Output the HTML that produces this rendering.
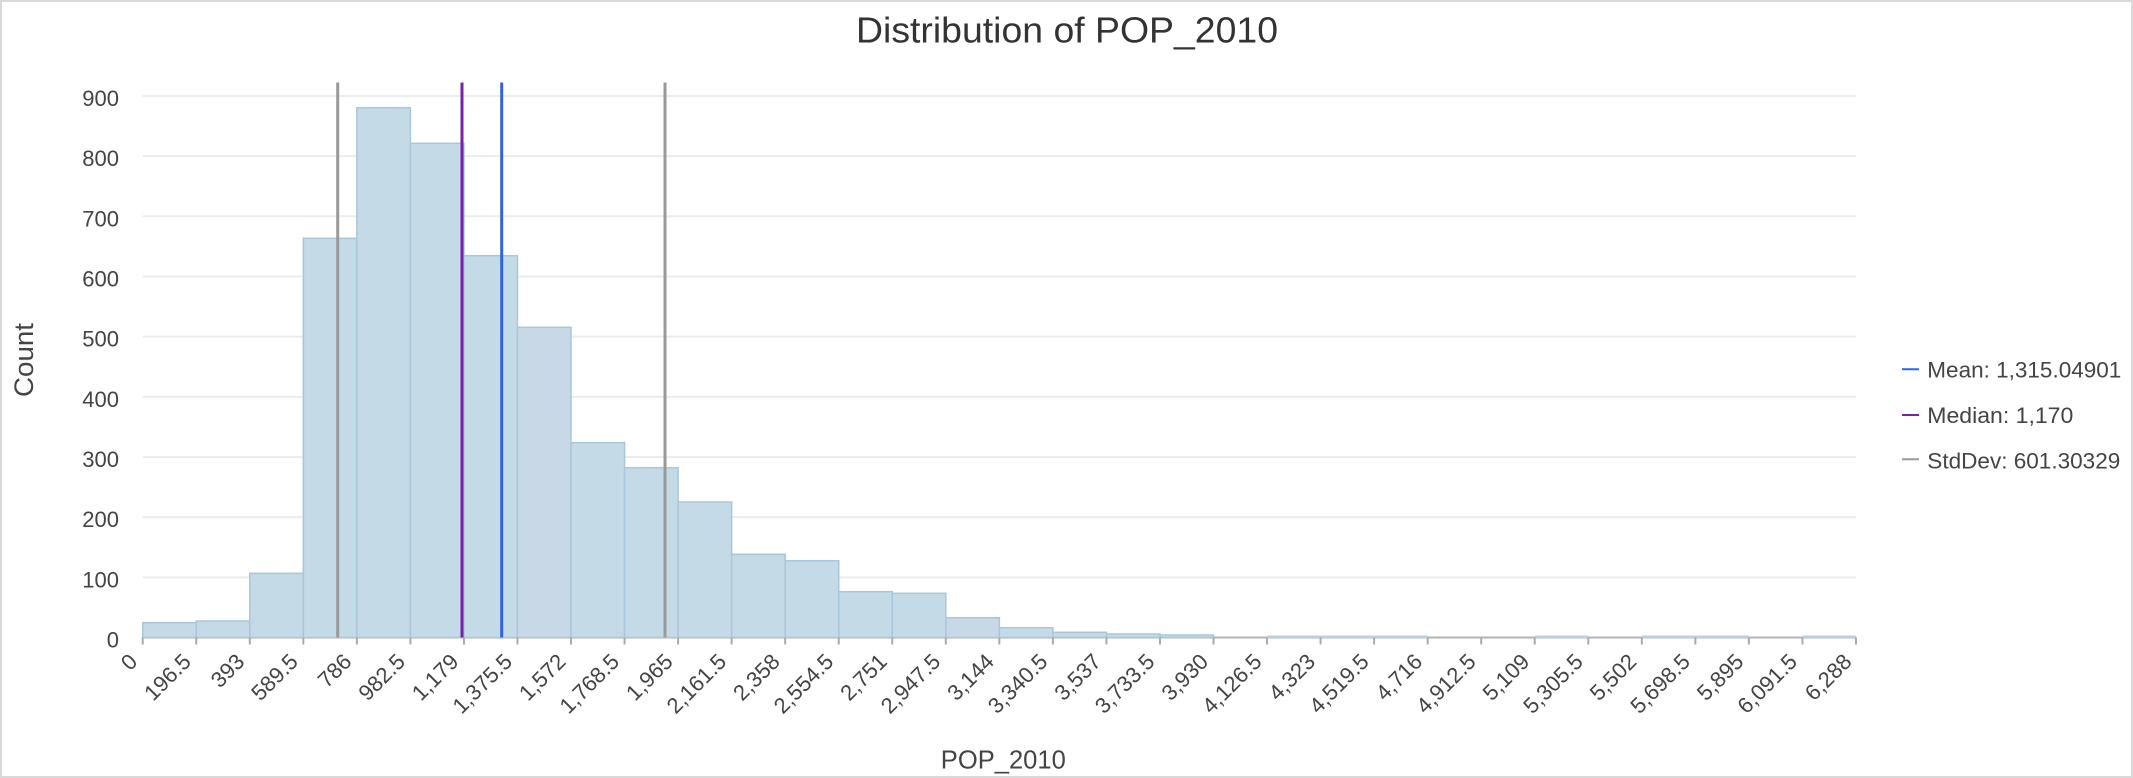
<!DOCTYPE html>
<html>
<head>
<meta charset="utf-8">
<style>
html,body{margin:0;padding:0;background:#fff;}
svg{display:block;}
text{font-family:"Liberation Sans","DejaVu Sans",sans-serif;}
</style>
</head>
<body>
<svg width="2133" height="778" viewBox="0 0 2133 778" xmlns="http://www.w3.org/2000/svg">
<rect x="0" y="0" width="2133" height="778" fill="#ffffff"/>
<rect x="1" y="1" width="2131" height="776" fill="none" stroke="#d9d9d9" stroke-width="2"/>

<!-- title -->
<text x="1067" y="42.7" font-size="36" fill="#333" text-anchor="middle" textLength="422" lengthAdjust="spacingAndGlyphs">Distribution of POP_2010</text>

<!-- gridlines -->
<g stroke="#ececec" stroke-width="2">
<line x1="142.7" x2="1856" y1="577.33" y2="577.33"/>
<line x1="142.7" x2="1856" y1="517.16" y2="517.16"/>
<line x1="142.7" x2="1856" y1="456.99" y2="456.99"/>
<line x1="142.7" x2="1856" y1="396.82" y2="396.82"/>
<line x1="142.7" x2="1856" y1="336.65" y2="336.65"/>
<line x1="142.7" x2="1856" y1="276.48" y2="276.48"/>
<line x1="142.7" x2="1856" y1="216.31" y2="216.31"/>
<line x1="142.7" x2="1856" y1="156.14" y2="156.14"/>
<line x1="142.7" x2="1856" y1="95.97" y2="95.97"/>
</g>

<!-- y tick labels -->
<g font-size="22" fill="#444" text-anchor="end">
<text x="119" y="647.5">0</text>
<text x="119" y="587.3">100</text>
<text x="119" y="527.2">200</text>
<text x="119" y="467">300</text>
<text x="119" y="406.8">400</text>
<text x="119" y="346.7">500</text>
<text x="119" y="286.5">600</text>
<text x="119" y="226.3">700</text>
<text x="119" y="166.1">800</text>
<text x="119" y="106">900</text>
</g>

<!-- axis line -->
<line x1="142.7" x2="1856" y1="637.5" y2="637.5" stroke="#b3b3b3" stroke-width="2"/>

<!-- bars -->
<g fill="#c5dae7" stroke="#a8c7db" stroke-width="1.5">
<rect x="142.7" y="622.7" width="53.54" height="14.8"/>
<rect x="196.24" y="621" width="53.54" height="16.5"/>
<rect x="249.78" y="573.3" width="53.54" height="64.2"/>
<rect x="303.32" y="238.3" width="53.54" height="399.2"/>
<rect x="356.86" y="107.7" width="53.54" height="529.8"/>
<rect x="410.4" y="143.3" width="53.54" height="494.2"/>
<rect x="463.94" y="255.7" width="53.54" height="381.8"/>
<rect x="517.48" y="327.3" width="53.54" height="310.2" fill="#c8d8e7"/>
<rect x="571.02" y="442.7" width="53.54" height="194.8"/>
<rect x="624.56" y="467.7" width="53.54" height="169.8"/>
<rect x="678.1" y="502" width="53.54" height="135.5"/>
<rect x="731.64" y="554.3" width="53.54" height="83.2"/>
<rect x="785.18" y="560.7" width="53.54" height="76.8"/>
<rect x="838.72" y="591.7" width="53.54" height="45.8"/>
<rect x="892.26" y="593.3" width="53.54" height="44.2"/>
<rect x="945.8" y="617.7" width="53.54" height="19.8" fill="#c8d8e7"/>
<rect x="999.34" y="627.7" width="53.54" height="9.8"/>
<rect x="1052.88" y="632.3" width="53.54" height="5.2"/>
<rect x="1106.42" y="634" width="53.54" height="3.5"/>
<rect x="1159.96" y="635" width="53.54" height="2.5"/>
</g>
<g fill="#b7d1e3">
<rect x="1267.04" y="635.5" width="53.54" height="2.6"/>
<rect x="1320.58" y="635.5" width="53.54" height="2.6"/>
<rect x="1374.12" y="635.5" width="53.54" height="2.6"/>
<rect x="1534.74" y="635.5" width="53.54" height="2.6"/>
<rect x="1641.82" y="635.5" width="53.54" height="2.6"/>
<rect x="1695.36" y="635.5" width="53.54" height="2.6"/>
<rect x="1802.44" y="635.5" width="53.54" height="2.6"/>
</g>

<!-- ticks -->
<g stroke="#aaaaaa" stroke-width="2">
<line x1="142.7" x2="142.7" y1="637.5" y2="644.5"/>
<line x1="196.24" x2="196.24" y1="637.5" y2="644.5"/>
<line x1="249.78" x2="249.78" y1="637.5" y2="644.5"/>
<line x1="303.32" x2="303.32" y1="637.5" y2="644.5"/>
<line x1="356.86" x2="356.86" y1="637.5" y2="644.5"/>
<line x1="410.4" x2="410.4" y1="637.5" y2="644.5"/>
<line x1="463.94" x2="463.94" y1="637.5" y2="644.5"/>
<line x1="517.48" x2="517.48" y1="637.5" y2="644.5"/>
<line x1="571.02" x2="571.02" y1="637.5" y2="644.5"/>
<line x1="624.56" x2="624.56" y1="637.5" y2="644.5"/>
<line x1="678.1" x2="678.1" y1="637.5" y2="644.5"/>
<line x1="731.64" x2="731.64" y1="637.5" y2="644.5"/>
<line x1="785.18" x2="785.18" y1="637.5" y2="644.5"/>
<line x1="838.72" x2="838.72" y1="637.5" y2="644.5"/>
<line x1="892.26" x2="892.26" y1="637.5" y2="644.5"/>
<line x1="945.8" x2="945.8" y1="637.5" y2="644.5"/>
<line x1="999.34" x2="999.34" y1="637.5" y2="644.5"/>
<line x1="1052.88" x2="1052.88" y1="637.5" y2="644.5"/>
<line x1="1106.42" x2="1106.42" y1="637.5" y2="644.5"/>
<line x1="1159.96" x2="1159.96" y1="637.5" y2="644.5"/>
<line x1="1213.5" x2="1213.5" y1="637.5" y2="644.5"/>
<line x1="1267.04" x2="1267.04" y1="637.5" y2="644.5"/>
<line x1="1320.58" x2="1320.58" y1="637.5" y2="644.5"/>
<line x1="1374.12" x2="1374.12" y1="637.5" y2="644.5"/>
<line x1="1427.66" x2="1427.66" y1="637.5" y2="644.5"/>
<line x1="1481.2" x2="1481.2" y1="637.5" y2="644.5"/>
<line x1="1534.74" x2="1534.74" y1="637.5" y2="644.5"/>
<line x1="1588.28" x2="1588.28" y1="637.5" y2="644.5"/>
<line x1="1641.82" x2="1641.82" y1="637.5" y2="644.5"/>
<line x1="1695.36" x2="1695.36" y1="637.5" y2="644.5"/>
<line x1="1748.9" x2="1748.9" y1="637.5" y2="644.5"/>
<line x1="1802.44" x2="1802.44" y1="637.5" y2="644.5"/>
<line x1="1855.98" x2="1855.98" y1="637.5" y2="644.5"/>
</g>

<!-- x tick labels -->
<g font-size="22" fill="#444" text-anchor="end">
<text transform="translate(138.7,663) rotate(-45)">0</text>
<text transform="translate(192.24,663) rotate(-45)">196.5</text>
<text transform="translate(245.78,663) rotate(-45)">393</text>
<text transform="translate(299.32,663) rotate(-45)">589.5</text>
<text transform="translate(352.86,663) rotate(-45)">786</text>
<text transform="translate(406.4,663) rotate(-45)">982.5</text>
<text transform="translate(459.94,663) rotate(-45)">1,179</text>
<text transform="translate(513.48,663) rotate(-45)">1,375.5</text>
<text transform="translate(567.02,663) rotate(-45)">1,572</text>
<text transform="translate(620.56,663) rotate(-45)">1,768.5</text>
<text transform="translate(674.1,663) rotate(-45)">1,965</text>
<text transform="translate(727.64,663) rotate(-45)">2,161.5</text>
<text transform="translate(781.18,663) rotate(-45)">2,358</text>
<text transform="translate(834.72,663) rotate(-45)">2,554.5</text>
<text transform="translate(888.26,663) rotate(-45)">2,751</text>
<text transform="translate(941.8,663) rotate(-45)">2,947.5</text>
<text transform="translate(995.34,663) rotate(-45)">3,144</text>
<text transform="translate(1048.88,663) rotate(-45)">3,340.5</text>
<text transform="translate(1102.42,663) rotate(-45)">3,537</text>
<text transform="translate(1155.96,663) rotate(-45)">3,733.5</text>
<text transform="translate(1209.5,663) rotate(-45)">3,930</text>
<text transform="translate(1263.04,663) rotate(-45)">4,126.5</text>
<text transform="translate(1316.58,663) rotate(-45)">4,323</text>
<text transform="translate(1370.12,663) rotate(-45)">4,519.5</text>
<text transform="translate(1423.66,663) rotate(-45)">4,716</text>
<text transform="translate(1477.2,663) rotate(-45)">4,912.5</text>
<text transform="translate(1530.74,663) rotate(-45)">5,109</text>
<text transform="translate(1584.28,663) rotate(-45)">5,305.5</text>
<text transform="translate(1637.82,663) rotate(-45)">5,502</text>
<text transform="translate(1691.36,663) rotate(-45)">5,698.5</text>
<text transform="translate(1744.9,663) rotate(-45)">5,895</text>
<text transform="translate(1798.44,663) rotate(-45)">6,091.5</text>
<text transform="translate(1852.98,663) rotate(-45)">6,288</text>
</g>

<!-- stat lines -->
<line x1="337.7" x2="337.7" y1="82.5" y2="637.5" stroke="#999999" stroke-width="3"/>
<line x1="665" x2="665" y1="82.5" y2="637.5" stroke="#999999" stroke-width="3"/>
<line x1="462" x2="462" y1="82.5" y2="637.5" stroke="#7a1fb0" stroke-width="3"/>
<line x1="501.7" x2="501.7" y1="82.5" y2="637.5" stroke="#2f63e3" stroke-width="3"/>

<!-- axis titles -->
<text transform="translate(33,360) rotate(-90)" font-size="27" fill="#444" text-anchor="middle" textLength="74" lengthAdjust="spacingAndGlyphs">Count</text>
<text x="1003.3" y="768.5" font-size="26" fill="#444" text-anchor="middle" textLength="125" lengthAdjust="spacingAndGlyphs">POP_2010</text>

<!-- legend -->
<line x1="1902" x2="1919" y1="369.3" y2="369.3" stroke="#2f63e3" stroke-width="2"/>
<line x1="1902" x2="1919" y1="415" y2="415" stroke="#7a1fb0" stroke-width="2"/>
<line x1="1902" x2="1919" y1="459.3" y2="459.3" stroke="#999999" stroke-width="2"/>
<g font-size="22" fill="#444">
<text x="1927.3" y="377.5" textLength="194" lengthAdjust="spacingAndGlyphs">Mean: 1,315.04901</text>
<text x="1927.3" y="423" textLength="146" lengthAdjust="spacingAndGlyphs">Median: 1,170</text>
<text x="1927.3" y="468.5" textLength="193" lengthAdjust="spacingAndGlyphs">StdDev: 601.30329</text>
</g>
</svg>
</body>
</html>
